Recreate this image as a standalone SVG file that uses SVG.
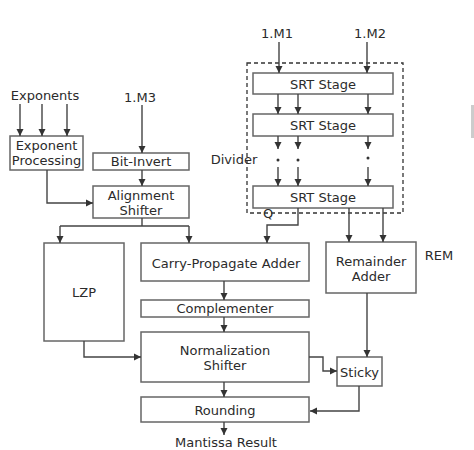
<svg xmlns="http://www.w3.org/2000/svg" width="474" height="450" viewBox="0 0 474 450">
<style>
text{font-family:"DejaVu Sans",Verdana,sans-serif;font-size:13px;fill:#2b2b2b;text-anchor:middle;dominant-baseline:central}
.box{fill:#fff;stroke:#666;stroke-width:1.5}
.ln{fill:none;stroke:#444;stroke-width:1.4}
.ar{marker-end:url(#ah)}
</style>
<defs>
<marker id="ah" markerUnits="userSpaceOnUse" markerWidth="8" markerHeight="8" refX="7" refY="4" orient="auto">
<path d="M0,0.5 L7,4 L0,7.5 z" fill="#333"/>
</marker>
</defs>
<rect width="474" height="450" fill="#fff"/>
<rect x="471" y="105" width="3" height="33" fill="#ccc"/>
<g id="labels">
<text x="45" y="95">Exponents</text>
<text x="140" y="97">1.M3</text>
<text x="277" y="33">1.M1</text>
<text x="370" y="33">1.M2</text>
<text x="234" y="159">Divider</text>
<text x="439" y="255">REM</text>
<text x="268" y="213">Q</text>
<text x="226" y="442">Mantissa Result</text>
</g>
<g id="divider">
<rect x="247" y="63" width="156" height="150" fill="none" stroke="#333" stroke-width="1.3" stroke-dasharray="4,3"/>
</g>
<g id="exponent-processing"><rect class="box" x="10" y="136" width="73" height="34"/><text x="46.5" y="145">Exponent</text><text x="46.5" y="160">Processing</text></g>
<g id="bit-invert"><rect class="box" x="93" y="153" width="96" height="17"/><text x="141" y="161.5">Bit-Invert</text></g>
<g id="alignment-shifter"><rect class="box" x="93" y="186" width="96" height="32"/><text x="141" y="195">Alignment</text><text x="141" y="210">Shifter</text></g>
<g id="srt1"><rect class="box" x="253" y="73" width="140" height="21"/><text x="323" y="84">SRT Stage</text></g>
<g id="srt2"><rect class="box" x="253" y="114" width="140" height="22"/><text x="323" y="125.5">SRT Stage</text></g>
<g id="srt3"><rect class="box" x="253" y="186" width="140" height="22"/><text x="323" y="197.5">SRT Stage</text></g>
<g id="lzp"><rect class="box" x="44" y="243" width="80" height="98"/><text x="84" y="292">LZP</text></g>
<g id="cpa"><rect class="box" x="141" y="243" width="168" height="38"/><text x="226" y="263">Carry-Propagate Adder</text></g>
<g id="remainder-adder"><rect class="box" x="326" y="242" width="90" height="51"/><text x="371" y="261">Remainder</text><text x="371" y="276">Adder</text></g>
<g id="complementer"><rect class="box" x="141" y="300" width="168" height="17"/><text x="225" y="308.5">Complementer</text></g>
<g id="normalization-shifter"><rect class="box" x="141" y="332" width="168" height="50"/><text x="225" y="350">Normalization</text><text x="225" y="365">Shifter</text></g>
<g id="sticky"><rect class="box" x="337" y="357" width="45" height="29"/><text x="359.5" y="372">Sticky</text></g>
<g id="rounding"><rect class="box" x="141" y="397" width="168" height="25"/><text x="225" y="410">Rounding</text></g>
<g id="connectors">
<path class="ln ar" d="M20,104 V136"/>
<path class="ln ar" d="M42,104 V136"/>
<path class="ln ar" d="M67,104 V136"/>
<path class="ln ar" d="M142,105 V153"/>
<path class="ln ar" d="M142,170 V186"/>
<path class="ln ar" d="M47,170 V203 H93"/>
<path class="ln ar" d="M279,42 V73"/>
<path class="ln ar" d="M367,42 V73"/>
<path class="ln ar" d="M278,94 V114"/>
<path class="ln ar" d="M298,94 V114"/>
<path class="ln ar" d="M368,94 V114"/>
<path class="ln ar" d="M278,136 V149"/>
<path class="ln ar" d="M298,136 V149"/>
<path class="ln ar" d="M368,136 V149"/>
<circle cx="278" cy="160" r="1.5" fill="#333"/>
<circle cx="298" cy="160" r="1.5" fill="#333"/>
<circle cx="368" cy="158" r="1.5" fill="#333"/>
<path class="ln ar" d="M278,167 V186"/>
<path class="ln ar" d="M298,167 V186"/>
<path class="ln ar" d="M368,167 V186"/>
<path class="ln" d="M142,218 V226 M60,226 H189"/>
<path class="ln ar" d="M60,226 V243"/>
<path class="ln ar" d="M189,226 V243"/>
<path class="ln ar" d="M298,208 V225 H267 V243"/>
<path class="ln ar" d="M349,208 V242"/>
<path class="ln ar" d="M383,208 V242"/>
<path class="ln ar" d="M224,281 V300"/>
<path class="ln ar" d="M224,317 V332"/>
<path class="ln ar" d="M84,341 V357 H141"/>
<path class="ln ar" d="M367,293 V357"/>
<path class="ln ar" d="M309,357 H323 V371 H337"/>
<path class="ln ar" d="M224,382 V397"/>
<path class="ln ar" d="M359,386 V411 H310"/>
<path class="ln ar" d="M224,422 V435"/>
</g>
</svg>
